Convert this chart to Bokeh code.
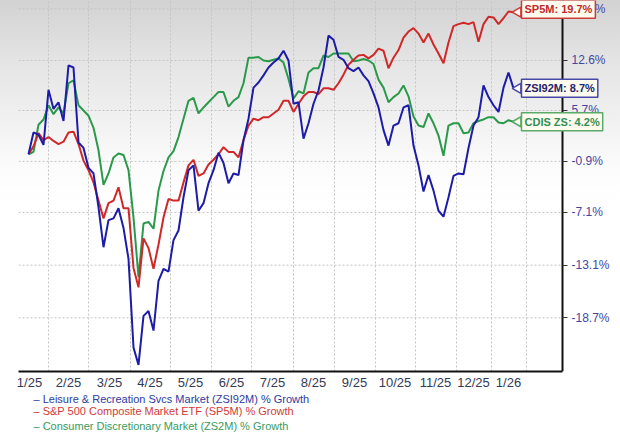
import math
from bokeh.plotting import figure
from bokeh.models import FixedTicker, Range1d, Label, LogAxis, Title
from bokeh.embed import file_html
from bokeh.resources import INLINE

# ---- data -------------------------------------------------------------
month_labels = ["1/25", "2/25", "3/25", "4/25", "5/25", "6/25", "7/25",
                "8/25", "9/25", "10/25", "11/25", "12/25", "1/26"]
# positions in sample units (one sample per ~2.5 trading days)
month_label_pos = [0.2, 8.0, 16.2, 24.3, 32.4, 40.6, 48.8, 57.0, 65.2, 73.3, 81.4, 89.0, 96.0]
month_edges = [4.0, 12.0, 20.3, 28.3, 36.6, 44.6, 52.9, 61.1, 69.3, 77.3, 85.5, 92.5, 99.5]
y_tick_pct = [20.2, 12.6, 5.7, -0.9, -7.1, -13.1, -18.7]

zsi92m = [0.0, 2.8, 2.5, 1.2, 8.5, 5.9, 6.8, 4.3, 11.9, 11.6, 1.5, 0.8, -1.7, -2.4, -6.5,
          -11.1, -8.0, -7.8, -6.6, -8.9, -12.4, -21.7, -23.4, -18.5, -18.0, -20.0, -14.8,
          -13.5, -13.8, -10.3, -9.2, -5.3, -2.0, -1.4, -6.9, -6.0, -3.6, -2.0, 0.2, -1.1,
          -3.6, -2.4, -2.6, 1.8, 4.6, 8.8, 9.5, 10.5, 11.6, 12.3, 12.9, 14.0, 12.6, 6.6,
          6.8, 2.0, 4.0, 6.6, 8.4, 11.6, 16.2, 15.6, 13.1, 12.7, 11.5, 11.1, 11.6, 10.5,
          9.7, 8.0, 6.1, 3.1, 1.1, 3.7, 4.0, 6.1, 6.4, 1.1, -1.4, -4.6, -2.6, -4.5, -6.9,
          -7.6, -5.3, -2.7, -2.4, -2.5, 0.8, 3.7, 4.8, 9.1, 7.5, 6.4, 5.5, 8.8, 10.9, 8.7]
sp5m = [0.0, 1.0, 2.7, 1.8, 2.2, 1.7, 1.3, 1.6, 2.8, 2.9, 1.3, -0.8, -2.0, -3.5, -5.7,
        -7.8, -6.0, -5.7, -4.1, -6.6, -6.6, -13.4, -15.5, -10.1, -11.2, -13.5, -10.8,
        -7.7, -5.5, -5.7, -5.7, -3.5, -1.4, -0.7, -2.7, -2.4, -1.3, -0.7, 0.0, 0.9, 0.3,
        0.3, -0.4, 1.8, 3.7, 4.6, 4.4, 4.8, 4.8, 5.3, 5.8, 7.0, 7.0, 5.5, 6.6, 7.6, 8.2,
        8.2, 7.9, 8.7, 8.7, 8.5, 9.4, 10.6, 12.0, 12.7, 13.3, 13.4, 12.9, 13.4, 14.3,
        14.0, 11.5, 13.0, 14.1, 15.9, 16.8, 17.3, 16.5, 15.2, 16.5, 14.9, 13.6, 12.2,
        15.2, 17.6, 17.9, 18.1, 17.9, 18.2, 15.3, 17.9, 19.0, 18.9, 17.9, 18.8, 19.8, 19.7]
zs2m = [0.0, 0.3, 3.8, 4.5, 6.4, 5.2, 6.1, 5.3, 9.4, 9.8, 6.4, 5.7, 5.0, 3.4, 0.5, -3.8,
        -2.4, -0.4, 0.1, -0.1, -2.0, -7.7, -14.4, -8.4, -8.2, -9.0, -4.5, -2.1, -0.4, 0.4,
        2.2, 4.6, 7.0, 7.4, 5.3, 6.1, 6.8, 7.5, 8.2, 8.2, 6.2, 7.0, 7.5, 9.4, 13.0, 13.0,
        13.1, 12.6, 12.5, 12.7, 12.9, 12.3, 10.0, 7.3, 8.3, 8.0, 10.9, 11.5, 11.5, 13.3,
        13.1, 13.6, 13.6, 13.6, 13.6, 12.5, 12.6, 12.8, 12.6, 12.1, 9.9, 8.8, 6.8, 7.5,
        8.0, 9.1, 7.6, 4.9, 3.7, 3.5, 5.3, 4.0, 2.4, -0.2, 3.7, 4.0, 4.0, 2.7, 2.8, 4.0,
        4.3, 4.5, 4.8, 4.8, 4.1, 4.0, 4.4, 4.2]

series_names = ["Leisure & Recreation Svcs Market (ZSI92M) % Growth",
                "S&P 500 Composite Market ETF (SP5M) % Growth",
                "Consumer Discretionary Market (ZS2M) % Growth"]
callout_names = ["ZSI92M", "SP5M", "CDIS ZS"]

# ---- styling ------------------------------------------------------------
line_colors = ["#1c1ca8", "#d02828", "#2a9a4a"]
text_colors = ["#2e3aa0", "#d23a3a", "#3a9a5c"]
callout_text = ["#23236e", "#c02a2a", "#2f8f55"]
callout_border = ["#4848a8", "#cc3a3a", "#5aaa6a"]
callout_fill = "#fffbef"

X_START, X_AXIS, X_END = -2, 106.8, 118.4

x = list(range(len(zsi92m)))
growth = lambda s: [1 + v / 100.0 for v in s]

p = figure(width=620, height=438, output_backend="svg", toolbar_location=None,
           x_range=Range1d(X_START, X_END), y_range=Range1d(0.7596, 1.2148),
           y_axis_type="log", y_axis_location=None,
           min_border_left=18, min_border_right=0, min_border_top=0, min_border_bottom=67)
p.styles = {"background": "linear-gradient(to bottom, #d2d2d2 0px, #e4e4e4 60px, "
                          "#f1f1f1 120px, #fbfbfb 165px, #ffffff 200px)"}
p.background_fill_alpha = 0
p.border_fill_alpha = 0
p.outline_line_color = None

# grid
yt = [1 + v / 100.0 for v in y_tick_pct]
p.xgrid.ticker = FixedTicker(ticks=month_edges)
p.xgrid.grid_line_color = "#c4c4c4"
p.xgrid.grid_line_dash = "2 2"
p.ygrid.visible = False
p.segment(x0=[X_START] * len(yt), x1=[X_AXIS] * len(yt), y0=yt, y1=yt,
          line_color="#c4c4c4", line_dash="2 2", line_width=1)

# bottom axis
xa = p.xaxis[0]
xa.bounds = (X_START, X_AXIS)
xa.ticker = FixedTicker(ticks=month_label_pos)
xa.major_label_overrides = {v: t for v, t in zip(month_label_pos, month_labels)}
xa.axis_line_color = "#111111"
xa.axis_line_width = 2
xa.major_tick_line_color = None
xa.major_tick_out = 0
xa.major_tick_in = 0
xa.minor_tick_line_color = None
xa.major_label_standoff = 3
xa.major_label_text_font = "Liberation Sans"
xa.major_label_text_font_size = "13px"
xa.major_label_text_color = "#333a55"

# right axis, pinned at the end of the time range
ya = LogAxis(fixed_location=X_AXIS, ticker=FixedTicker(ticks=yt))
ya.major_label_overrides = {v: "%.1f%%" % t for v, t in zip(yt, y_tick_pct)}
ya.axis_line_color = "#111111"
ya.axis_line_width = 2
ya.major_tick_line_color = "#333333"
ya.major_tick_out = 5
ya.major_tick_in = 0
ya.minor_tick_line_color = None
ya.major_label_standoff = 4
ya.major_label_text_font = "Liberation Sans"
ya.major_label_text_font_size = "12px"
ya.major_label_text_color = "#4646a0"
p.add_layout(ya, "right")

# lines (green, red, blue order so blue sits on top)
data = [zsi92m, sp5m, zs2m]
for idx in (2, 1, 0):
    p.line(x, growth(data[idx]), line_color=line_colors[idx], line_width=2)

# callouts
last_y = [1 + s[-1] / 100.0 for s in data]
p.scatter(x=[x[-1] + 0.9] * 3, y=last_y, marker="triangle", angle=math.pi / 2,
          size=10, fill_color=callout_fill, line_color=callout_border, line_width=1.5)
y_offsets = [0, 3, 0]
for idx in range(3):
    s = data[idx]
    p.add_layout(Label(x=x[-1], y=last_y[idx], x_offset=8, y_offset=y_offsets[idx],
                       text="%s: %.1f%%" % (callout_names[idx], s[-1]),
                       text_align="left", text_baseline="middle",
                       text_font="Liberation Sans", text_font_size="11px",
                       text_font_style="bold", text_color=callout_text[idx],
                       background_fill_color=callout_fill, border_line_color=callout_border[idx],
                       border_line_width=1.5, padding=3))

# legend rows
standoffs = [-4, 1, 1]
for idx in range(3):
    p.add_layout(Title(text="\u2013  " + series_names[idx], align="left", offset=15,
                       standoff=standoffs[idx], text_font="Liberation Sans",
                       text_font_size="11px", text_font_style="normal",
                       text_color=text_colors[idx]), "below")

open("out.html", "w").write(file_html(p, INLINE))
